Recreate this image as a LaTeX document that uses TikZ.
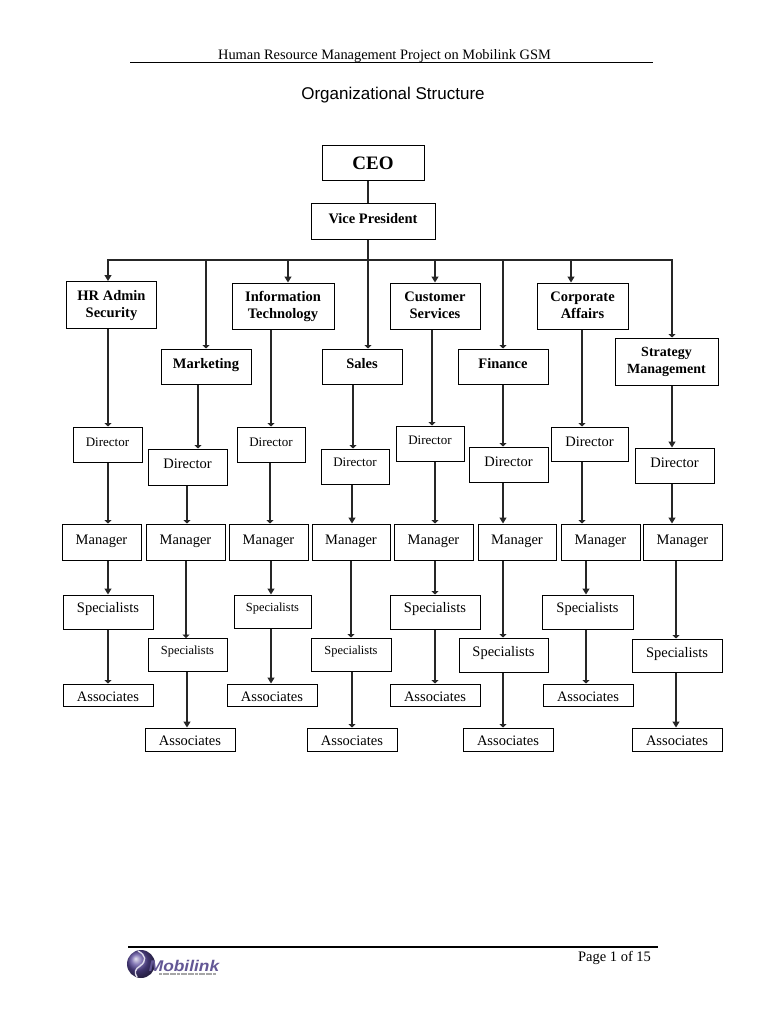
\documentclass[tikz,border=0pt]{standalone}
\usepackage{fontspec}
\setmainfont{Liberation Serif}
\setsansfont{Liberation Sans}
\usetikzlibrary{arrows.meta,shadings}
\definecolor{logoPurple}{HTML}{5A4A9C}

\begin{document}
\begin{tikzpicture}[
    x=1pt,y=-1pt,
    box/.style    ={draw=black,line width=1pt,fill=white,inner sep=0pt,align=center},
    head/.style   ={box,font=\fontsize{14.5}{17}\selectfont\bfseries,text depth=2pt},
    role/.style   ={box,font=\fontsize{14.5}{17}\selectfont,text depth=5pt},
    small/.style  ={box,font=\fontsize{13}{15}\selectfont,text depth=5pt},
    tiny/.style   ={box,font=\fontsize{12.4}{15}\selectfont,text depth=9pt},
    asc/.style    ={role,minimum width=90pt,text height=12.5pt,text depth=0pt},
    arrow/.style  ={->,>={Stealth[length=6pt,width=7pt,inset=0pt]},line width=1.2pt,draw=black!85},
    stub/.style   ={->,>={Stealth[length=3.5pt,width=7pt,inset=0pt]},line width=1.2pt,draw=black!85},
    lbl/.style    ={inner sep=0pt},
]
\useasboundingbox (0,0) rectangle (768,1024);

% ---------- Page header ----------
\coordinate (ruleL) at (130,62);
\coordinate (ruleR) at (653,62);
\draw[line width=.7pt] (ruleL) -- (ruleR);
\node[lbl,font=\fontsize{14.4}{17}\selectfont] (project) at (384.5,56.5) {Human Resource Management Project on Mobilink GSM};
\node[lbl,font=\sffamily\fontsize{17}{19}\selectfont] (title) at (393,95) {Organizational Structure};

% ---------- Top ----------
\node[box,font=\fontsize{19}{21}\selectfont\bfseries,minimum width=102pt,minimum height=35pt] (ceo) at (373,163.5) {CEO};
\node[head,minimum width=124pt,minimum height=35pt,text depth=6pt] (vp) at (373,221.5) {Vice President};
\coordinate (bus) at (368,260);

% ---------- HR ----------
\node[head,minimum width=90pt,minimum height=47pt] (hrHead) at (111.5,305) {HR Admin\\Security};
\node[small,minimum width=69pt,minimum height=35pt] (hrDir) at (107.5,444.5) {Director};
\node[role,minimum width=79pt,minimum height=36pt] (hrMgr) at (101.5,542) {Manager};
\node[role,minimum width=90pt,minimum height=34pt,text depth=9pt] (hrSpec) at (108,612) {Specialists};
\node[asc,minimum height=22pt] (hrAsc) at (108,695) {Associates};

% ---------- Marketing ----------
\node[head,minimum width=90pt,minimum height=35pt,text depth=6pt] (mktHead) at (206,366.5) {Marketing};
\node[role,minimum width=79pt,minimum height=36pt,text depth=7pt] (mktDir) at (187.5,467) {Director};
\node[role,minimum width=79pt,minimum height=36pt] (mktMgr) at (185.5,542) {Manager};
\node[tiny,minimum width=79pt,minimum height=33pt] (mktSpec) at (187.5,655) {Specialists};
\node[asc,minimum height=23pt] (mktAsc) at (190,739.5) {Associates};

% ---------- Information Technology ----------
\node[head,minimum width=102pt,minimum height=46pt] (itHead) at (283,306) {Information\\Technology};
\node[small,minimum width=68pt,minimum height=35pt] (itDir) at (271,444.5) {Director};
\node[role,minimum width=79pt,minimum height=36pt] (itMgr) at (268.5,542) {Manager};
\node[tiny,minimum width=77pt,minimum height=33pt] (itSpec) at (272.5,611.5) {Specialists};
\node[asc,minimum height=22pt] (itAsc) at (272,695) {Associates};

% ---------- Sales ----------
\node[head,minimum width=80pt,minimum height=35pt,text depth=6pt] (salesHead) at (362,366.5) {Sales};
\node[small,minimum width=68pt,minimum height=35pt,text depth=9pt] (salesDir) at (355,466.5) {Director};
\node[role,minimum width=78pt,minimum height=36pt] (salesMgr) at (351,542) {Manager};
\node[tiny,minimum width=80pt,minimum height=33pt] (salesSpec) at (351,654.5) {Specialists};
\node[asc,minimum height=23pt] (salesAsc) at (352,739.5) {Associates};

% ---------- Customer Services ----------
\node[head,minimum width=90pt,minimum height=46pt] (custHead) at (435,306) {Customer\\Services};
\node[small,minimum width=68pt,minimum height=35pt,text depth=7pt] (custDir) at (430,443.5) {Director};
\node[role,minimum width=79pt,minimum height=36pt] (custMgr) at (433.5,542) {Manager};
\node[role,minimum width=90pt,minimum height=34pt,text depth=9pt] (custSpec) at (435,612) {Specialists};
\node[asc,minimum height=22pt] (custAsc) at (435,695) {Associates};

% ---------- Finance ----------
\node[head,minimum width=90pt,minimum height=35pt,text depth=6pt] (finHead) at (503,366.5) {Finance};
\node[role,minimum width=79pt,minimum height=35pt] (finDir) at (508.5,464.5) {Director};
\node[role,minimum width=78pt,minimum height=36pt] (finMgr) at (517,542) {Manager};
\node[role,minimum width=89pt,minimum height=34pt,text depth=7pt] (finSpec) at (503.5,655) {Specialists};
\node[asc,minimum height=23pt] (finAsc) at (508,739.5) {Associates};

% ---------- Corporate Affairs ----------
\node[head,minimum width=91pt,minimum height=46pt] (corpHead) at (582.5,306) {Corporate\\Affairs};
\node[role,minimum width=77pt,minimum height=34pt] (corpDir) at (589.5,444) {Director};
\node[role,minimum width=79pt,minimum height=36pt] (corpMgr) at (600.5,542) {Manager};
\node[role,minimum width=91pt,minimum height=34pt,text depth=9pt] (corpSpec) at (587.5,612) {Specialists};
\node[asc,minimum height=22pt] (corpAsc) at (588,695) {Associates};

% ---------- Strategy Management ----------
\node[head,font=\fontsize{14}{16.5}\selectfont\bfseries,minimum width=103pt,minimum height=47pt] (stratHead) at (666.5,361.5) {Strategy\\Management};
\node[role,minimum width=79pt,minimum height=35pt] (stratDir) at (674.5,465.5) {Director};
\node[role,minimum width=79pt,minimum height=36pt] (stratMgr) at (682.5,542) {Manager};
\node[role,minimum width=90pt,minimum height=33pt,text depth=7pt] (stratSpec) at (677,655.5) {Specialists};
\node[asc,minimum height=23pt] (stratAsc) at (677,739.5) {Associates};

% ---------- Connectors ----------
\draw[line width=1.2pt,draw=black!85] (368,0 |- ceo.south) -- (368,0 |- vp.north);
\draw[stub] (368,0 |- vp.south) -- (368,0 |- salesHead.north);

\foreach \to/\xx/\tip in {hrHead/108/arrow,mktHead/206/stub,itHead/288/arrow,custHead/435/arrow,
                          finHead/503/stub,corpHead/571/arrow,stratHead/672/stub}{
  \draw[\tip] (bus) -| (\xx,0 |- \to.north);
}

\foreach \from/\to/\xx/\tip in {
  hrHead/hrDir/108/stub, hrDir/hrMgr/108/stub, hrMgr/hrSpec/108/arrow, hrSpec/hrAsc/108/stub,
  mktHead/mktDir/198/stub, mktDir/mktMgr/187/stub, mktMgr/mktSpec/186/stub, mktSpec/mktAsc/187/arrow,
  itHead/itDir/271/stub, itDir/itMgr/270/stub, itMgr/itSpec/271/arrow, itSpec/itAsc/271/arrow,
  salesHead/salesDir/353/stub, salesDir/salesMgr/352/arrow, salesMgr/salesSpec/351/stub, salesSpec/salesAsc/352/stub,
  custHead/custDir/432/stub, custDir/custMgr/435/stub, custMgr/custSpec/435/stub, custSpec/custAsc/435/stub,
  finHead/finDir/503/stub, finDir/finMgr/503/arrow, finMgr/finSpec/503/stub, finSpec/finAsc/503/stub,
  corpHead/corpDir/582/stub, corpDir/corpMgr/582/stub, corpMgr/corpSpec/586/arrow, corpSpec/corpAsc/586/stub,
  stratHead/stratDir/672/arrow, stratDir/stratMgr/672/arrow, stratMgr/stratSpec/676/stub, stratSpec/stratAsc/676/arrow}{
  \draw[\tip] (\xx,0 |- \from.south) -- (\xx,0 |- \to.north);
}

% ---------- Footer ----------
\coordinate (footL) at (128,947);
\coordinate (footR) at (658,947);
\draw[line width=1.8pt] (footL) -- (footR);
\node[lbl,font=\fontsize{14.5}{17}\selectfont] (page) at (614.5,958) {Page 1 of 15};

% Logo
\shade[ball color=logoPurple] (141,964) circle (14);
\draw[white!80!logoPurple,line width=1.4pt] (138,951) .. controls (146,955) and (147,961) .. (140,966) .. controls (135,969) and (134,973) .. (137,977);
\node[lbl,font=\sffamily\bfseries\itshape\fontsize{15.5}{17}\selectfont,text=logoPurple!75!gray,xscale=1.12,transform shape] (logo) at (184,966) {Mobilink};
\draw[gray!70,line width=1.2pt,dash pattern=on 3pt off .6pt] (159,974) -- (216,974);
\end{tikzpicture}
\end{document}
